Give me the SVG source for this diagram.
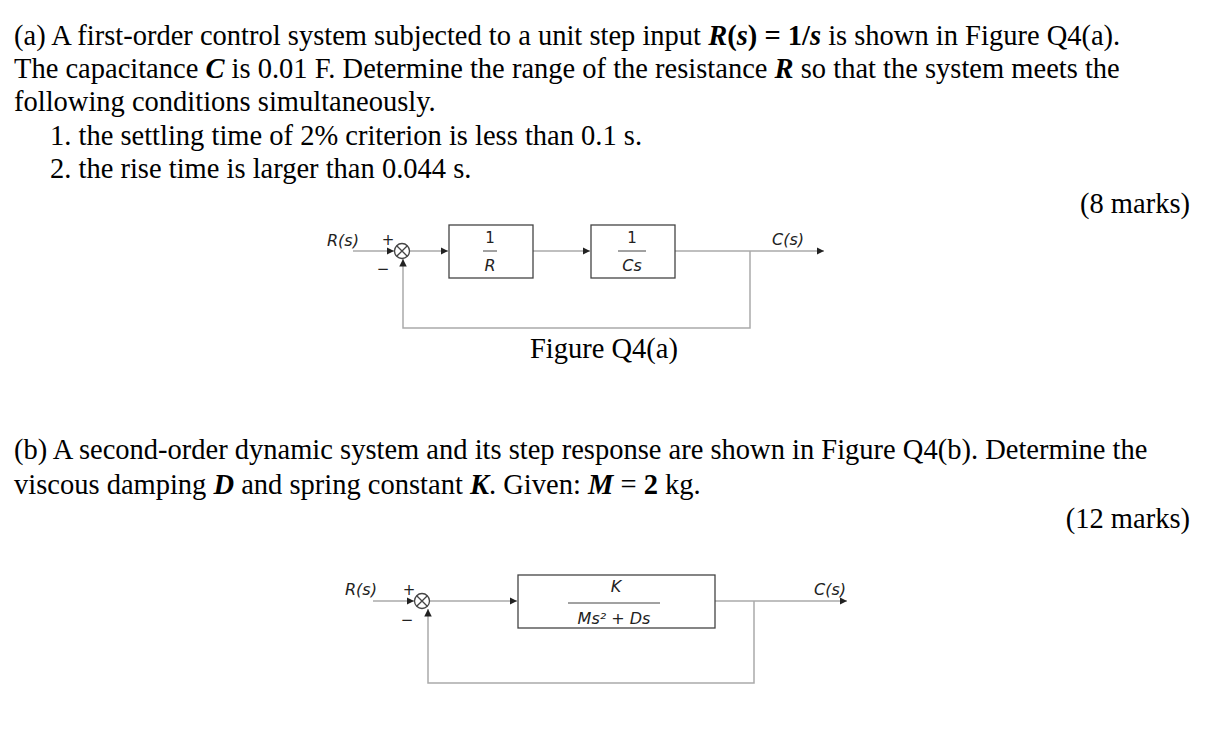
<svg xmlns="http://www.w3.org/2000/svg" width="1216" height="751" viewBox="0 0 1216 751">
<style>
.t{font-family:"Liberation Serif",serif;font-size:28.5px;fill:#000}
.d{font-family:"DejaVu Sans",sans-serif;font-size:16px;font-style:italic;fill:#222}
.n{font-family:"DejaVu Sans",sans-serif;font-size:15px;fill:#222}
.w{fill:none;stroke:#aaa;stroke-width:1.5}
.b{fill:#fff;stroke:#444;stroke-width:1.3}
</style>
<defs><marker id="a" viewBox="0 0 6 6" refX="6" refY="3" markerWidth="5" markerHeight="5" orient="auto"><path d="M0,0L6,3L0,6z" fill="#222"/></marker></defs>
<rect width="1216" height="751" fill="#fff"/>
<text class="t" x="14" y="45">(a) A first-order control system subjected to a unit step input <tspan font-weight="bold" font-style="italic">R</tspan><tspan font-weight="bold">(</tspan><tspan font-weight="bold" font-style="italic">s</tspan><tspan font-weight="bold">) = 1/</tspan><tspan font-weight="bold" font-style="italic">s</tspan> is shown in Figure Q4(a).</text>
<text class="t" x="14" y="78">The capacitance <tspan font-weight="bold" font-style="italic">C</tspan> is 0.01 F. Determine the range of the resistance <tspan font-weight="bold" font-style="italic">R</tspan> so that the system meets the</text>
<text class="t" x="14" y="111">following conditions simultaneously.</text>
<text class="t" x="50" y="145">1. the settling time of 2% criterion is less than 0.1 s.</text>
<text class="t" x="50" y="178">2. the rise time is larger than 0.044 s.</text>
<text class="t" x="1190" y="213" text-anchor="end">(8 marks)</text>
<text class="t" x="604" y="358" text-anchor="middle">Figure Q4(a)</text>
<text class="t" x="14" y="459">(b) A second-order dynamic system and its step response are shown in Figure Q4(b). Determine the</text>
<text class="t" x="14" y="494">viscous damping <tspan font-weight="bold" font-style="italic">D</tspan> and spring constant <tspan font-weight="bold" font-style="italic">K</tspan>. Given: <tspan font-weight="bold" font-style="italic">M</tspan> = <tspan font-weight="bold">2</tspan> kg.</text>
<text class="t" x="1190" y="528" text-anchor="end">(12 marks)</text>
<g id="conn">
<path class="w" d="M353,251H394" marker-end="url(#a)"/>
<path class="w" d="M410,251H448" marker-end="url(#a)"/>
<path class="w" d="M533,251H590" marker-end="url(#a)"/>
<path class="w" d="M675,251H824" marker-end="url(#a)"/>
<path class="w" d="M750,251V328H403V259" marker-end="url(#a)"/>
<path class="w" d="M373,601H414" marker-end="url(#a)"/>
<path class="w" d="M430,601H517" marker-end="url(#a)"/>
<path class="w" d="M715,601H847" marker-end="url(#a)"/>
<path class="w" d="M754,601V683H428V609" marker-end="url(#a)"/>
</g>
<g id="sum1"><circle cx="402" cy="251" r="7.5" class="b"/><path d="M396.7,245.7L407.3,256.3M407.3,245.7L396.7,256.3" stroke="#444" stroke-width="1.3"/>
<text class="n" x="388" y="245" text-anchor="middle">+</text><text class="n" x="383" y="274" text-anchor="middle">−</text><text class="d" x="327" y="246">R(s)</text></g>
<g id="b1"><rect x="449" y="225" width="84" height="53" class="b"/><text class="n" x="490" y="243" text-anchor="middle">1</text><line x1="483" y1="251" x2="497" y2="251" stroke="#444"/><text class="d" x="490" y="271" text-anchor="middle">R</text></g>
<g id="b2"><rect x="591" y="225" width="84" height="53" class="b"/><text class="n" x="632" y="243" text-anchor="middle">1</text><line x1="618" y1="251" x2="646" y2="251" stroke="#444"/><text class="d" x="632" y="271" text-anchor="middle">Cs</text></g>
<text class="d" x="772" y="245">C(s)</text>
<g id="sum2"><circle cx="422" cy="601" r="7.5" class="b"/><path d="M416.7,595.7L427.3,606.3M427.3,595.7L416.7,606.3" stroke="#444" stroke-width="1.3"/>
<text class="n" x="409" y="595" text-anchor="middle">+</text><text class="n" x="407" y="625" text-anchor="middle">−</text><text class="d" x="345" y="595">R(s)</text></g>
<g id="b3"><rect x="518" y="575" width="197" height="53" class="b"/><text class="d" x="616" y="592" text-anchor="middle">K</text><line x1="568" y1="603" x2="660" y2="603" stroke="#444"/><text class="d" x="614" y="624" text-anchor="middle">Ms² + Ds</text></g>
<text class="d" x="814" y="595">C(s)</text>
</svg>
